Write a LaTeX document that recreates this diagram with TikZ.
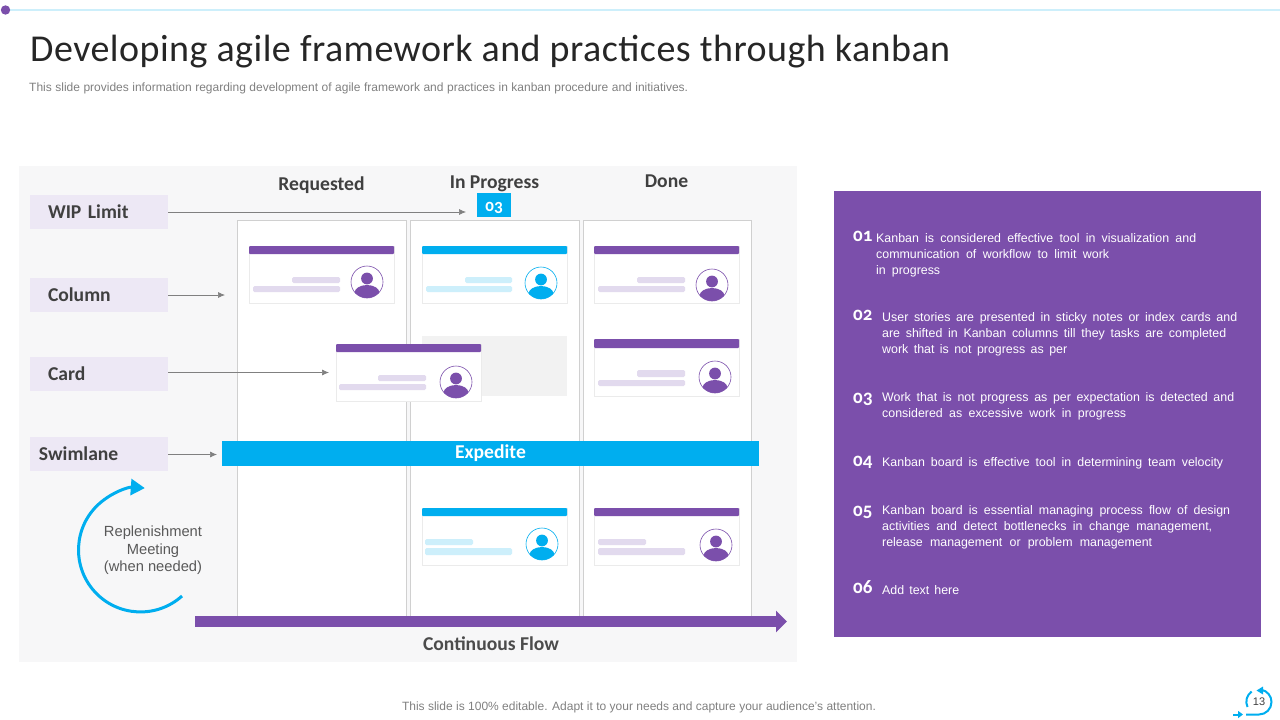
\documentclass[tikz,border=0pt]{standalone}
\usepackage{fontspec}
\setmainfont{Liberation Sans}
\newfontfamily\headfont[Numbers=OldStyle]{Carlito}
\newfontfamily\titlefont[LetterSpace=1.25]{Carlito}
\usetikzlibrary{arrows.meta}

\definecolor{kpurple}{HTML}{7B4FAB}
\definecolor{kblue}{HTML}{00AEEF}
\definecolor{klilac}{HTML}{E2DAEE}
\definecolor{ksky}{HTML}{CDEFFB}
\definecolor{klabel}{HTML}{EDE8F5}
\definecolor{kboard}{HTML}{F7F7F8}
\definecolor{kline}{HTML}{D0D0D0}
\definecolor{kink}{HTML}{404040}

\newcommand{\fitline}[2]{\makebox[#1pt][s]{#2}}
\newcommand{\lowdigit}[1]{\raisebox{-2.5pt}{\addfontfeature{Numbers=Lining}#1}}
\newcommand{\highdigit}[1]{{\addfontfeature{Numbers=Lining}#1}}

% x, y, colour, avatar dx, avatar dy, top bar height
\newcommand{\kancard}[6]{
  \begin{scope}[shift={(#1,#2)}]
    \draw[draw=black!8,fill=white] (0,0) rectangle (145.5,57.5);
    \fill[#3,rounded corners=1pt] (0,0) rectangle (145,#6);
    \begin{scope}[shift={(#4,#5)}]
      \begin{scope}
        \clip (0,0) circle[radius=16];
        \fill[#3] (0,-3.5) circle[radius=5.9];
        \fill[#3] (0,11) ellipse[x radius=12.5,y radius=8];
      \end{scope}
      \draw[#3,line width=0.6pt] (0,0) circle[radius=16];
    \end{scope}
  \end{scope}
}

\tikzset{
  labelbox/.style={fill=klabel,minimum height=34pt,text width=138pt,align=left,inner sep=0pt,text=kink,font=\headfont\bfseries\fontsize{19.6}{22}\selectfont},
  colhead/.style={inner sep=0pt,text=kink,font=\headfont\bfseries\fontsize{19.6}{22}\selectfont},
  coltrack/.style={draw=kline,fill=white,line width=0.7pt},
  pointer/.style={draw=black!50,line width=0.7pt,-{Latex[length=7pt,width=6pt]}},
  panelnum/.style={inner sep=0pt,anchor=base west,text=white,font=\headfont\bfseries\fontsize{19}{20}\selectfont},
  paneltext/.style={inner sep=0pt,anchor=north west,align=left,text=white,font=\fontsize{12.4}{16}\selectfont},
  softbar/.style={rounded corners=1.5pt}
}

\begin{document}
\begin{tikzpicture}[x=1pt,y=-1pt]
  \useasboundingbox (0,0) rectangle (1280,720);

  % top rule and heading
  \draw[ksky,line width=1.2pt] (10,10) -- (1280,10);
  \fill[kpurple] (5.5,10) circle[radius=4.7];
  \node[inner sep=0pt,anchor=base west,text=black!85,font=\titlefont\fontsize{38}{42}\selectfont] (slidetitle) at (30,61) {Developing agile framework and practices through kanban};
  \node[inner sep=0pt,anchor=base west,text=black!50,font=\fontsize{12}{14}\selectfont] (slidesub) at (29,91) {\fitline{659}{This slide provides information regarding development of agile framework and practices in kanban procedure and initiatives.}};

  % board
  \fill[kboard] (19,166) rectangle (797,662);
  \draw[coltrack] (237.5,220.5) rectangle (406.7,616);
  \draw[coltrack] (410.7,220.5) rectangle (579.3,616);
  \draw[coltrack] (583,220.5) rectangle (751.5,616);
  \fill[black!5] (422,336) rectangle (567,396);

  \node[colhead] (requested) at (321.5,185) {Requested};
  \node[colhead] (inprogress) at (494.5,183.5) {In Progress};
  \node[colhead] (done) at (666.5,181) {Done};
  \node[fill=kblue,text=white,inner sep=0pt,minimum width=34pt,minimum height=24pt,text height=13pt,text depth=1pt,font=\headfont\bfseries\fontsize{17}{18}\selectfont] (wipcount) at (494,205) {0\lowdigit{3}};

  % cards
  \kancard{249}{246}{kpurple}{118}{36}{8}
  \fill[klilac,softbar] (292,277) rectangle (340,283);
  \fill[klilac,softbar] (253,286) rectangle (340,292);

  \kancard{422}{246}{kblue}{119}{37}{8}
  \fill[ksky,softbar] (465,277) rectangle (512,283);
  \fill[ksky,softbar] (426,286) rectangle (512,292);

  \kancard{594}{246}{kpurple}{118}{39}{8}
  \fill[klilac,softbar] (637,277) rectangle (685,283);
  \fill[klilac,softbar] (598,286) rectangle (685,292);

  \kancard{594}{339}{kpurple}{121}{38}{9}
  \fill[klilac,softbar] (637,370) rectangle (685,377);
  \fill[klilac,softbar] (598,380) rectangle (685,386);

  \kancard{336}{344}{kpurple}{120}{38}{8}
  \fill[klilac,softbar] (378,375) rectangle (426,381);
  \fill[klilac,softbar] (339,384) rectangle (426,390);

  \kancard{422}{508}{kblue}{120}{36}{8}
  \fill[ksky,softbar] (425,539) rectangle (473,545);
  \fill[ksky,softbar] (425,548) rectangle (512,555);

  \kancard{594}{508}{kpurple}{122}{37}{8}
  \fill[klilac,softbar] (598,539) rectangle (646,545);
  \fill[klilac,softbar] (598,548) rectangle (685,555);

  % labels
  \node[labelbox] (wip) at (99,212) {\hspace*{18pt}WIP Limit};
  \node[labelbox] (column) at (99,295) {\hspace*{18pt}Column};
  \node[labelbox] (card) at (99,373.5) {\hspace*{18pt}Card};
  \node[labelbox] (swimlane) at (99,454) {\hspace*{9pt}Swimlane};

  \coordinate (wipend) at (466,212);
  \coordinate (columnend) at (225,295);
  \coordinate (cardend) at (329,372.5);
  \coordinate (swimend) at (217,454.5);
  \draw[pointer] (wip.east) -- (wipend);
  \draw[pointer] (column.east) -- (columnend);
  \draw[pointer] (card.east|-cardend) -- (cardend);
  \draw[pointer] (swimlane.east|-swimend) -- (swimend);

  \node[fill=kblue,text=white,inner sep=0pt,minimum width=537pt,minimum height=25pt,font=\headfont\bfseries\fontsize{19.6}{22}\selectfont] (expedite) at (490.5,453.5) {Expedite};

  % flow arrow and meeting loop
  \coordinate (flowstart) at (195,621.5);
  \coordinate (flowend) at (787,621.5);
  \draw[kpurple,line width=11pt,-{Triangle[length=11pt,width=21pt]}] (flowstart) -- (flowend);
  \node[colhead,text=black!70] (flow) at (491,644) {Continuous Flow};

  \draw[kblue,line width=3pt,-{Triangle[length=14pt,width=16pt]}] (182,596) arc[start angle=-48,end angle=-274,radius=62pt];
  \node[inner sep=0pt,align=center,text=black!65,font=\fontsize{14.7}{17.5}\selectfont] (meeting) at (153,550.5) {Replenishment\\Meeting\\(when needed)};

  % right panel
  \fill[kpurple] (834,191) rectangle (1261,637);
  \node[panelnum] (numa) at (853,241) {01};
  \node[paneltext] (txta) at (876,233.5) {\fitline{320}{Kanban is considered effective tool in visualization and}\\\fitline{233}{communication of workflow to limit work}\\\fitline{64}{in progress}};
  \node[panelnum] (numb) at (853,320) {02};
  \node[paneltext] (txtb) at (882,312.5) {\fitline{355}{User stories are presented in sticky notes or index cards and}\\\fitline{344}{are shifted in Kanban columns till they tasks are completed}\\\fitline{185}{work that is not progress as per}};
  \node[panelnum] (numc) at (853,403) {0\lowdigit{3}};
  \node[paneltext] (txtc) at (882,392.5) {\fitline{352}{Work that is not progress as per expectation is detected and}\\\fitline{244}{considered as excessive work in progress}};
  \node[panelnum] (numd) at (853,466) {0\lowdigit{4}};
  \node[paneltext] (txtd) at (882,457.5) {\fitline{341}{Kanban board is effective tool in determining team velocity}};
  \node[panelnum] (nume) at (853,516) {0\lowdigit{5}};
  \node[paneltext] (txte) at (882,505.5) {\fitline{348}{Kanban board is essential managing process flow of design}\\\fitline{330}{activities and detect bottlenecks in change management,}\\\fitline{270}{release management or problem management}};
  \node[panelnum] (numf) at (853,593) {0\highdigit{6}};
  \node[paneltext] (txtf) at (882,585.5) {\fitline{77}{Add text here}};

  % footer
  \node[inner sep=0pt,text=black!50,font=\fontsize{12}{14}\selectfont] (footnote) at (639,707) {\fitline{474}{This slide is 100\% editable. Adapt it to your needs and capture your audience's attention.}};
  \node[inner sep=0pt,text=black!75,font=\fontsize{11}{12}\selectfont] (pageno) at (1259,702) {13};
  \coordinate (loopin) at (1233,714.5);
  \coordinate (loopgap) at (1243,714.5);
  \draw[kblue,line width=2pt,-{Triangle[length=5pt,width=7pt]}] (loopin) -- (loopgap);
  \draw[kblue,line width=2pt] (1246,714.5) -- (1259,714.5) arc[start angle=-90,end angle=80,radius=12.5pt];
  \fill[kblue] (1256.5,690.5) -- (1263,686.5) -- (1263,694.5) -- cycle;
  \draw[kblue,line width=2pt] (1247.5,707) arc[start angle=205,end angle=125,radius=12.5pt];
\end{tikzpicture}
\end{document}
